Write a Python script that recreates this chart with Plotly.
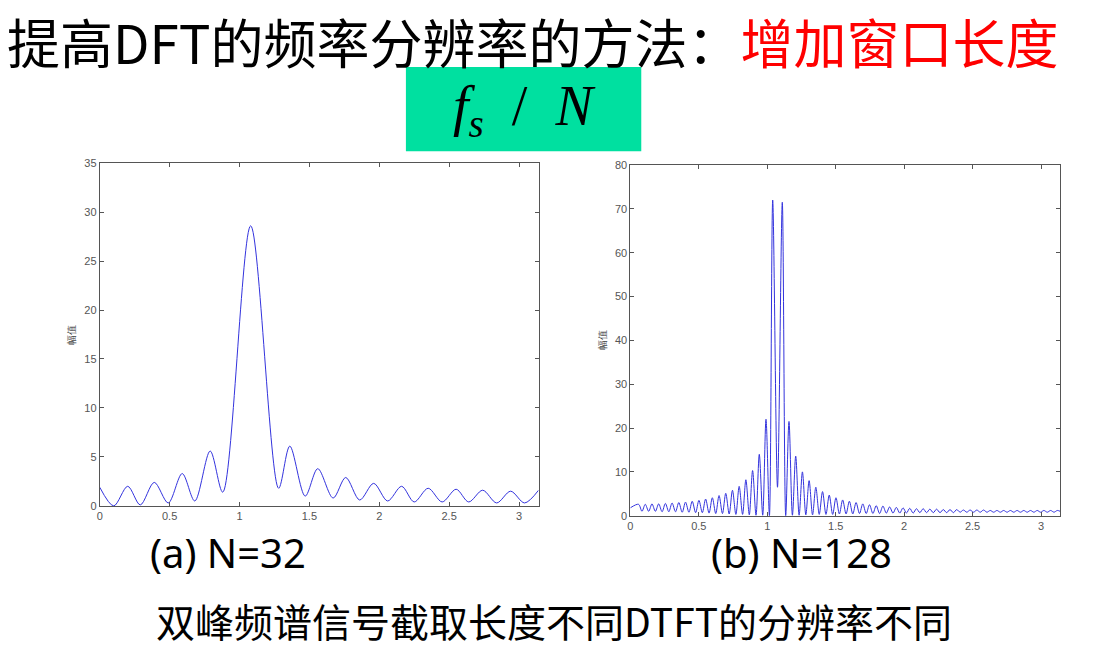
import plotly.graph_objects as go

# Panel (a): N=32, lobe peaks and minima
a_x = [0.0, 0.10, 0.20, 0.29, 0.39, 0.49, 0.59, 0.68, 0.79, 0.88, 1.08, 1.28, 1.36, 1.47, 1.56, 1.67,
       1.76, 1.86, 1.96, 2.06, 2.16, 2.25, 2.35, 2.45, 2.55, 2.64, 2.74, 2.84, 2.94, 3.04, 3.14]
a_y = [1.9, 0.0, 2.0, 0.1, 2.4, 0.3, 3.3, 0.5, 5.6, 1.4, 28.6, 1.8, 6.1, 1.0, 3.8, 0.8,
       2.9, 0.6, 2.3, 0.5, 2.0, 0.4, 1.8, 0.4, 1.7, 0.4, 1.6, 0.3, 1.5, 0.3, 1.6]

# Panel (b): N=128
b_peak_x = [0.060, 0.109, 0.158, 0.207, 0.256, 0.305, 0.354, 0.403, 0.452, 0.501, 0.550, 0.599, 0.648,
            0.697, 0.746, 0.795, 0.844, 0.893, 0.942, 0.991, 1.040, 1.110,
            1.159, 1.208, 1.257, 1.306, 1.355, 1.404, 1.453, 1.502, 1.551, 1.600, 1.649, 1.698, 1.747,
            1.796, 1.845, 1.894, 1.943, 1.992, 2.041, 2.090, 2.139, 2.188, 2.237, 2.286, 2.335, 2.384,
            2.433, 2.482, 2.531, 2.580, 2.629, 2.678, 2.727, 2.776, 2.825, 2.874, 2.923, 2.972, 3.021,
            3.070, 3.119]
b_peak_y = [2.6, 2.6, 2.7, 2.7, 2.8, 2.9, 3.0, 3.1, 3.3, 3.5, 3.8, 4.1, 4.6, 5.1, 5.8, 6.7, 8.2, 10.3,
            14.0, 22.0, 72.0, 71.5,
            21.5, 13.6, 10.0, 8.0, 6.5, 5.5, 4.7, 4.1, 3.6, 3.3, 3.0, 2.7, 2.5, 2.3, 2.2, 2.0, 1.9, 1.8,
            1.7, 1.6, 1.6, 1.5, 1.5, 1.4, 1.4, 1.4, 1.3, 1.3, 1.3, 1.3, 1.2, 1.2, 1.2, 1.2, 1.2, 1.2,
            1.2, 1.2, 1.2, 1.2, 1.2]
b_trough_x = [0.0, 0.085, 0.134, 0.183, 0.232, 0.281, 0.330, 0.379, 0.428, 0.477, 0.526, 0.575, 0.624,
              0.673, 0.722, 0.771, 0.820, 0.869, 0.918, 0.967, 1.016, 1.075,
              1.135, 1.184, 1.233, 1.282, 1.331, 1.380, 1.429, 1.478, 1.527, 1.576, 1.625, 1.674, 1.723,
              1.772, 1.821, 1.870, 1.919, 1.968, 2.017, 2.066, 2.115, 2.164, 2.213, 2.262, 2.311, 2.360,
              2.409, 2.458, 2.507, 2.556, 2.605, 2.654, 2.703, 2.752, 2.801, 2.850, 2.899, 2.948, 2.997,
              3.046, 3.095, 3.140]
b_trough_y = [1.8, 1.0, 1.0, 1.0, 0.9, 0.9, 0.9, 0.8, 0.8, 0.7, 0.7, 0.6, 0.5, 0.5, 0.4, 0.3, 0.3,
              0.2, 0.1, 0.1, 0.0, 6.5,
              0.0, 0.1, 0.1, 0.2, 0.2, 0.3, 0.3, 0.3, 0.4, 0.4, 0.4, 0.5, 0.5, 0.5, 0.5, 0.6, 0.6, 0.6,
              0.6, 0.6, 0.7, 0.7, 0.7, 0.7, 0.7, 0.7, 0.8, 0.8, 0.8, 0.8, 0.8, 0.8, 0.8, 0.8, 0.8, 0.8,
              0.8, 0.8, 0.8, 0.8, 0.8, 1.0]

b_pts = sorted(list(zip(b_peak_x, b_peak_y)) + list(zip(b_trough_x, b_trough_y)))
b_x = [p[0] for p in b_pts]
b_y = [p[1] for p in b_pts]

x_ticks = [0, 0.5, 1, 1.5, 2, 2.5, 3]
x_ticklabels = ["0", "0.5", "1", "1.5", "2", "2.5", "3"]

fig = go.Figure()
line = dict(color="#3333dd", width=1, shape="spline", smoothing=0.9)
fig.add_trace(go.Scatter(x=a_x, y=a_y, mode="lines", line=line, xaxis="x", yaxis="y", showlegend=False))
fig.add_trace(go.Scatter(x=b_x, y=b_y, mode="lines", line=line, xaxis="x2", yaxis="y2", showlegend=False))

ax = dict(showline=True, linecolor="#555", mirror="ticks", ticks="inside", ticklen=4, tickcolor="#555",
          showgrid=False, zeroline=False, tickfont=dict(size=11, color="#555", family="Liberation Sans"))
fig.update_layout(
    width=1110, height=672, margin=dict(l=0, r=0, t=0, b=0),
    paper_bgcolor="white", plot_bgcolor="white",
    xaxis=dict(ax, domain=[0.0874, 0.4838], range=[0, 3.14], tickvals=x_ticks, ticktext=x_ticklabels, anchor="y"),
    yaxis=dict(ax, domain=[0.2426, 0.7619], range=[0, 35], dtick=5, anchor="x",
               title=dict(text="幅值", font=dict(size=10, color="#444"), standoff=6)),
    xaxis2=dict(ax, domain=[0.5667, 0.955], range=[0, 3.14], tickvals=x_ticks, ticktext=x_ticklabels, anchor="y2"),
    yaxis2=dict(ax, domain=[0.2277, 0.759], range=[0, 80], dtick=10, anchor="x2",
                title=dict(text="幅值", font=dict(size=10, color="#444"), standoff=6)),
)
fig.add_shape(type="rect", xref="paper", yref="paper", x0=404/1110, x1=640/1110, y0=1-148/672, y1=1-62/672,
              fillcolor="#00e0a0", line=dict(width=0), layer="below")
cjk = "Noto Sans CJK SC"


def note(x, y, text, size, family, color="black"):
    fig.add_annotation(xref="paper", yref="paper", x=x/1110, y=1-y/672, xanchor="center", yanchor="middle",
                       showarrow=False, text=text, font=dict(size=size, family=family, color=color))


note(531, 36, "提高DFT的频率分辨率的方法：<span style='color:#ff0000'>增加窗口长度</span>", 53, cjk)
note(522, 106, "<i>f<sub>s</sub></i>  /  <i>N</i>", 56, "Liberation Serif")
note(226, 556, "(a) N=32", 40, "Noto Sans")
note(801, 556, "(b) N=128", 40, "Noto Sans")
note(552, 625, "双峰频谱信号截取长度不同DTFT的分辨率不同", 39, cjk)

fig.write_html("out.html", config={"displayModeBar": False})
with open("out.html", encoding="utf-8") as f:
    html = f.read()
html = html.replace("<head>", "<head><style>body{margin:0;overflow:hidden}</style>", 1)
with open("out.html", "w", encoding="utf-8") as f:
    f.write(html)
